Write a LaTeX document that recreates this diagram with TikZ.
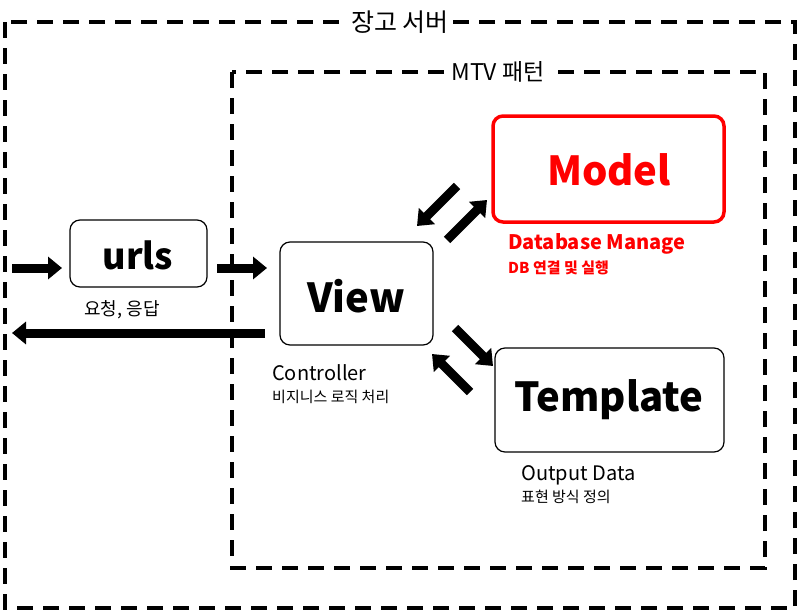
\documentclass[tikz,border=0pt]{standalone}
\usepackage{fontspec}
\setmainfont{Noto Sans CJK KR}
\usetikzlibrary{arrows.meta}
\begin{document}
\begin{tikzpicture}[x=1pt,y=-1pt,
  frame/.style={draw,line width=3.5pt,dash pattern=on 16pt off 10pt},
  box/.style={draw,line width=1.2pt,rounded corners=10pt},
  fat/.style={line width=9pt,-{Triangle[length=14pt,width=22pt]}},
  lbl/.style={font=\fontsize{20}{24}\selectfont,anchor=west,inner sep=0},
  sub/.style={font=\fontsize{15}{18}\selectfont,anchor=west,inner sep=0}]
\useasboundingbox (0,0) rectangle (800,613);
\draw[frame] (5,22) rectangle (795,608);
\node[fill=white,font=\fontsize{25}{28}\selectfont] (srv) at (400,22) {장고 서버};
\draw[frame] (232,72) rectangle (765,568);
\node[fill=white,font=\fontsize{23}{26}\selectfont] (mtv) at (498,72) {MTV 패턴};
\draw[box] (70,220) rectangle (207,287);
\node[font=\fontsize{36}{40}\selectfont\bfseries] (urls) at (138,255) {urls};
\node[font=\fontsize{18}{20}\selectfont] (req) at (122,310) {요청, 응답};
\draw[box] (280,242) rectangle (433,345);
\node[font=\fontsize{40}{44}\selectfont\bfseries] (view) at (356,296) {View};
\node[lbl] (ctl) at (272,373) {Controller};
\node[sub] (ctlk) at (272,397) {비지니스 로직 처리};
\draw[box,red,line width=3.5pt] (493,116) rectangle (724,222);
\node[red,font=\fontsize{40}{44}\selectfont\bfseries] (model) at (609,170) {Model};
\node[lbl,red,font=\fontsize{20}{24}\selectfont\bfseries] (db) at (508,244) {Database Manage};
\node[sub,red,font=\fontsize{15}{18}\selectfont\bfseries] (dbk) at (508,268) {DB 연결 및 실행};
\draw[box] (495,348) rectangle (724,452);
\node[font=\fontsize{40}{44}\selectfont\bfseries] (tpl) at (609,400) {Template};
\node[lbl] (out) at (521,475) {Output Data};
\node[sub] (outk) at (521,497) {표현 방식 정의};
\coordinate (a1) at (12,268); \coordinate (a2) at (62,268);
\coordinate (b1) at (217,268); \coordinate (b2) at (267,268);
\coordinate (c1) at (265,333); \coordinate (c2) at (12,333);
\draw[fat] (a1) -- (a2);
\draw[fat] (b1) -- (b2);
\draw[fat] (c1) -- (c2);
\coordinate (d1) at (447,240); \coordinate (d2) at (487,200);
\coordinate (e1) at (457,186); \coordinate (e2) at (417,226);
\draw[fat] (d1) -- (d2);
\draw[fat] (e1) -- (e2);
\coordinate (f1) at (455,328); \coordinate (f2) at (493,366);
\coordinate (g1) at (470,392); \coordinate (g2) at (432,354);
\draw[fat] (f1) -- (f2);
\draw[fat] (g1) -- (g2);
\end{tikzpicture}
\end{document}
